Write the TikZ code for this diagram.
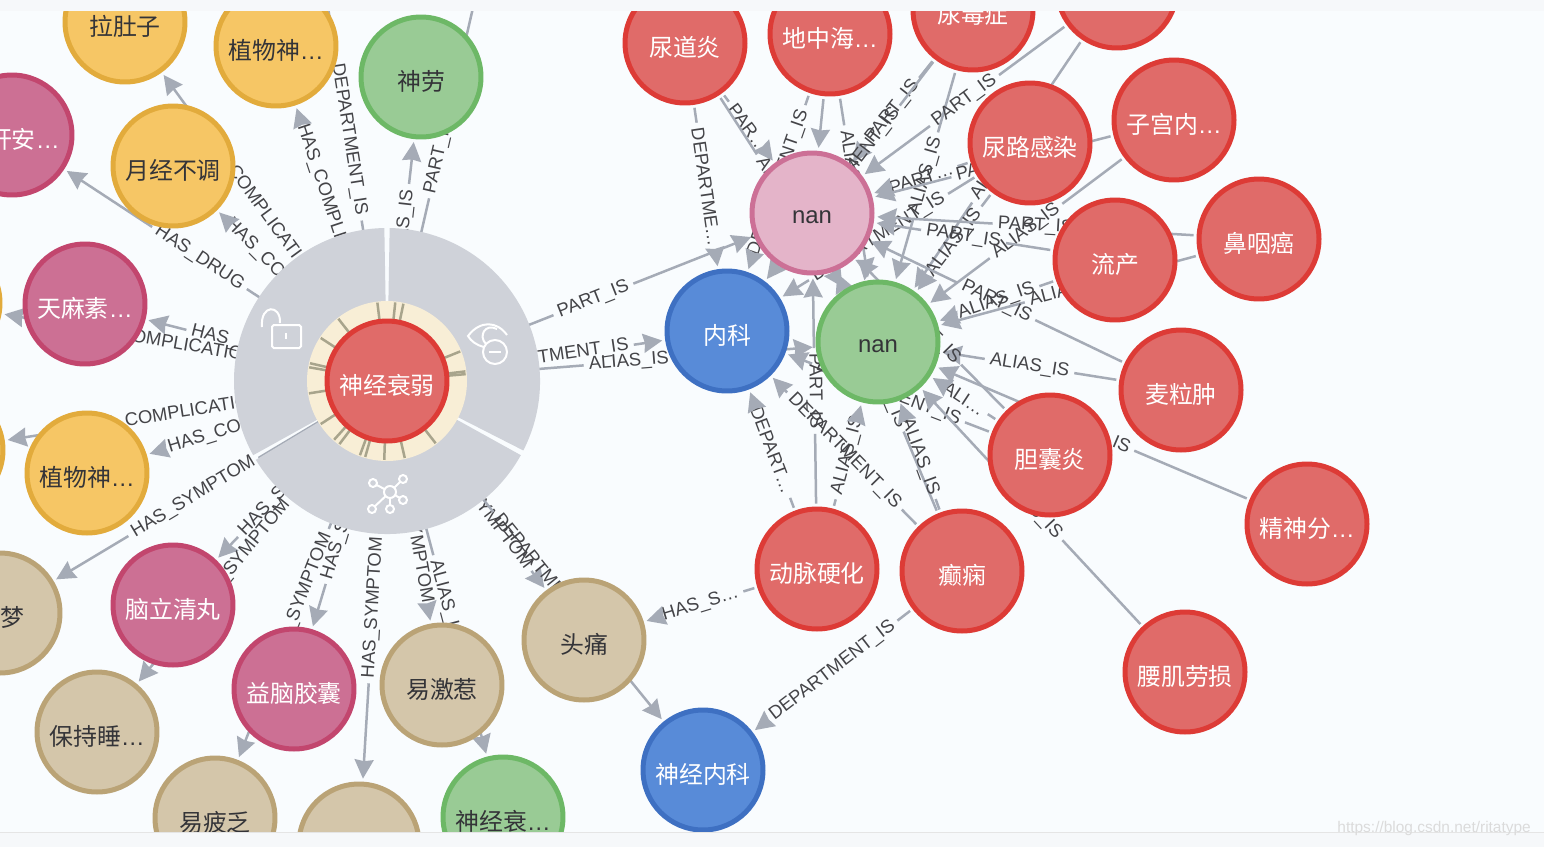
\documentclass[tikz,border=0pt]{standalone}
\usepackage{fontspec}
\setmainfont{Liberation Sans}
\newfontfamily\cjk{Noto Sans CJK SC}
\usepackage{tikz}
\usetikzlibrary{arrows.meta,backgrounds}
\definecolor{pagebg}{RGB}{249,252,254}
\definecolor{bandbg}{RGB}{246,248,250}
\definecolor{linkgrey}{RGB}{165,171,182}
\definecolor{inktext}{RGB}{52,52,56}
\definecolor{ringgrey}{RGB}{207,210,217}
\definecolor{ringcream}{RGB}{248,238,214}
\definecolor{stubolive}{RGB}{168,164,140}
\newcommand{\more}{{\rmfamily\char"2026}}
\newcommand{\relink}[4][.5]{%
  \path (#2) -- node[rel,pos=#1] (lbl) {#4} (#3);
  \draw[link] (#2) -- (lbl);
  \draw[arrow] (lbl) -- (#3);
}

\begin{document}
\begin{tikzpicture}[
    x=0.02cm, y=-0.02cm,
    >={Stealth[length=0.38cm,width=0.38cm,inset=0.03cm]},
    link/.style={line width=0.05cm, draw=linkgrey},
    arrow/.style={link, ->},
    rel/.style={sloped, font=\fontsize{10.5pt}{10.5pt}\selectfont, text=inktext!92,
                inner xsep=0.1cm, inner ysep=0pt},
    gnode/.style={circle, draw, line width=0.1cm, minimum size=2.4cm, inner sep=0pt,
                  outer sep=0.11cm, font=\cjk\fontsize{13.6pt}{13.6pt}\selectfont, text=inktext,
                  text height=0.52cm, text depth=0pt},
    nanfont/.style={font=\fontsize{13.6pt}{13.6pt}\selectfont, text height=0.4cm},
    redn/.style={fill={rgb,255:red,224;green,107;blue,105}, draw={rgb,255:red,221;green,59;blue,54}, text=white},
    pinkn/.style={fill={rgb,255:red,228;green,180;blue,201}, draw={rgb,255:red,204;green,112;blue,150}},
    greenn/.style={fill={rgb,255:red,153;green,203;blue,149}, draw={rgb,255:red,109;green,184;blue,102}},
    bluen/.style={fill={rgb,255:red,88;green,139;blue,216}, draw={rgb,255:red,62;green,112;blue,194}, text=white},
    tann/.style={fill={rgb,255:red,212;green,198;blue,170}, draw={rgb,255:red,186;green,163;blue,118}},
    yelln/.style={fill={rgb,255:red,246;green,198;blue,101}, draw={rgb,255:red,226;green,171;blue,60}},
    rosen/.style={fill={rgb,255:red,204;green,112;blue,148}, draw={rgb,255:red,194;green,70;blue,110}, text=white},
    icon/.style={draw=white, line width=0.04cm},
]
\useasboundingbox (0,0) rectangle (1544,846);
\begin{pgfonlayer}{background}
  \fill[pagebg] (0,0) rectangle (1544,846);
\end{pgfonlayer}

%% ── menu ring ──────────────────────────────────────
\begin{scope}[shift={(387,381)}, x=0.02cm, y=0.02cm]
  \foreach \a/\b in {91/209, 211/331, 333/449}
    \fill[ringgrey] (0,0) -- (\a:153) arc[start angle=\a, end angle=\b, radius=153] -- cycle;
  \fill[ringcream] (0,0) circle (80);
  \foreach \a in {97,84,78,128,147,167,170,189,213,228,233,250,254,268,283,308,22,5,7}
    \draw[stubolive, line width=0.05cm] (\a:60) -- (\a:79);
\end{scope}

% lock
\draw[icon, rounded corners=1pt] (272,325) rectangle (301,348);
\draw[icon] (262,327) .. controls (260,304) and (281,304) .. (280,323);
\draw[icon] (286,333) -- (286,339);
% eye
\draw[icon] (484,347) .. controls (476,345) and (471,341) .. (468,336) .. controls (480,320) and (497,321) .. (507,335);
\draw[icon] (497,329) .. controls (485,323) and (478,336) .. (486,344);
\draw[icon] (495,352) circle (12);
\draw[icon] (489,352) -- (501,352);
% network
\begin{scope}[shift={(390,492)}]
  \foreach \p in {(-17,-9),(13,-13),(13,8),(0,17),(-18,17)} {
    \draw[icon] (0,0) -- \p;
    \fill[ringgrey] \p circle (4);
    \draw[icon] \p circle (4);
  }
  \fill[ringgrey] (0,0) circle (6);
  \draw[icon] (0,0) circle (6);
\end{scope}

%% ── left group ─────────────────────────────────────
\node[gnode,redn]    (shuai)  at (387,381)  {神经衰弱};
\node[gnode,rosen]   (gan)    at (12,135)   {\phantom{肝}肝安\more};
\node[gnode,yelln]   (ladu)   at (125,22)   {拉肚子};
\node[gnode,yelln]   (zhiA)   at (276,46)   {植物神\more};
\node[gnode,greenn]  (lao)    at (421,77)   {神劳};
\node[gnode,yelln]   (yue)    at (173,166)  {月经不调};
\node[gnode,rosen]   (tian)   at (85,304)   {天麻素\more};
\node[gnode,yelln]   (zhiB)   at (87,473)   {植物神\more};
\node[gnode,yelln]   (edgeA)  at (-60,303)  {};
\node[gnode,yelln]   (edgeB)  at (-57,450)  {};
\node[gnode,tann]    (meng)   at (0,613)    {\phantom{梦}梦};
\node[gnode,rosen]   (nao)    at (173,605)  {脑立清丸};
\node[gnode,rosen]   (yinao)  at (294,689)  {益脑胶囊};
\node[gnode,tann]    (bao)    at (97,732)   {保持睡\more};
\node[gnode,tann]    (pi)     at (215,818)  {易疲乏};
\node[gnode,tann]    (lower)  at (359,844)  {};
\node[gnode,tann]    (ji)     at (442,685)  {易激惹};
\node[gnode,greenn]  (shuaiB) at (503,817)  {神经衰\more};
\node[gnode,tann]    (tou)    at (584,640)  {头痛};
\node[gnode,bluen]   (shennei) at (703,770) {神经内科};

%% ── right group ────────────────────────────────────
\node[gnode,bluen]   (nei)    at (727,331)  {内科};
\node[gnode,pinkn,nanfont]  (nanP) at (812,213) {nan};
\node[gnode,greenn,nanfont] (nanG) at (878,342) {nan};
\node[gnode,redn]    (dao)    at (685,43)   {尿道炎};
\node[gnode,redn]    (dizh)   at (830,34)   {地中海\more};
\node[gnode,redn]    (du)     at (973,10)   {尿毒症};
\node[gnode,redn]    (topr)   at (1117,-12) {};
\node[gnode,redn]    (lu)     at (1030,143) {尿路感染};
\node[gnode,redn]    (zi)     at (1174,120) {子宫内\more};
\node[gnode,redn]    (bi)     at (1259,239) {鼻咽癌};
\node[gnode,redn]    (liu)    at (1115,260) {流产};
\node[gnode,redn]    (mai)    at (1181,390) {麦粒肿};
\node[gnode,redn]    (dan)    at (1050,455) {胆囊炎};
\node[gnode,redn]    (jing)   at (1307,524) {精神分\more};
\node[gnode,redn]    (yao)    at (1185,672) {腰肌劳损};
\node[gnode,redn]    (dong)   at (817,569)  {动脉硬化};
\node[gnode,redn]    (dian)   at (962,571)  {癫痫};

\coordinate (upA) at (484,-40);
\coordinate (upB) at (321,-37);

%% ── links, under the nodes ─────────────────────────
\begin{pgfonlayer}{background}
\relink{shuai}{gan}{HAS\_DRUG}
\relink[.385]{shuai}{yue}{HAS\_COMPLICATION}
\relink[.49]{shuai}{ladu}{HAS\_COMPLICATION}
\relink[.47]{shuai}{tian}{HAS\_DRUG}
\relink{shuai}{edgeA}{HAS\_COMPLICATION}
\relink[.38]{shuai}{zhiB}{HAS\_COMPLICATION}
\relink[.484]{shuai}{edgeB}{HAS\_COMPLICATION}
\relink{shuai}{meng}{HAS\_SYMPTOM}
\relink[.415]{shuai}{nao}{HAS\_SYMPTOM}
\relink{shuai}{bao}{HAS\_SYMPTOM}
\relink[.37]{shuai}{yinao}{HAS\_SYMPTOM}
\relink{shuai}{pi}{HAS\_SYMPTOM}
\relink[.485]{shuai}{lower}{HAS\_SYMPTOM}
\relink{shuai}{ji}{HAS\_SYMPTOM}
\relink{shuai}{shuaiB}{ALIAS\_IS}
\relink{shuai}{tou}{HAS\_SYMPTOM}
\relink{shuai}{shennei}{DEPARTMENT\_IS}
\relink{shuai}{lao}{ALIAS\_IS}
\relink{shuai}{zhiA}{HAS\_COMPLICATION}
\relink[.48]{shuai}{nanP}{PART\_IS}
\relink[.48]{shuai}{nei}{DEPARTMENT\_IS}
\relink[.49]{shuai}{nanG}{ALIAS\_IS}
\path (shuai) -- node[rel,pos=.45] (lbl) {PART\_IS} (upA);
\draw[link] (shuai) -- (lbl);
\draw[link] (lbl) -- (upA);
\path (shuai) -- node[rel] (lbl) {DEPARTMENT\_IS} (upB);
\draw[link] (shuai) -- (lbl);
\draw[link] (lbl) -- (upB);

\relink{dao}{nei}{DEPARTME\more}
\relink{dao}{nanP}{PAR\more}
\relink{dao}{nanG}{ALIAS\_IS}
\draw[arrow] (dizh) -- (nanP);
\relink{dizh}{nei}{DEPARTMENT\_IS}
\relink[.4]{dizh}{nanG}{ALIAS\_IS}
\relink{du}{nanP}{PART\_IS}
\relink{du}{nei}{DEPARTMENT\_IS}
\relink{du}{nanG}{ALIAS\_IS}
\relink{topr}{nanP}{PART\_IS}
\relink{topr}{nanG}{ALIAS\_IS}
\relink{lu}{nanP}{PART\more}
\relink{lu}{nei}{DEPARTMENT\_IS}
\relink{lu}{nanG}{ALIAS\_IS}
\relink{zi}{nanP}{PART\_IS}
\relink{zi}{nanG}{ALIAS\_IS}
\relink{bi}{nanP}{PART\_IS}
\relink{bi}{nanG}{ALIAS\_IS}
\relink{liu}{nanP}{PART\_IS}
\relink{liu}{nanG}{ALIAS\_IS}
\relink{mai}{nanP}{PART\_IS}
\relink{mai}{nanG}{ALIAS\_IS}
\relink{dan}{nanG}{ALI\more}
\relink{dan}{nanP}{PART\_IS}
\relink{dan}{nei}{DEPARTMENT\_IS}
\relink{jing}{nanG}{ALIAS\_IS}
\relink{yao}{nanG}{ALIAS\_IS}
\relink{dong}{nei}{DEPART\more}
\relink{dong}{nanP}{PART\_IS}
\relink{dong}{nanG}{ALIAS\_IS}
\relink{dong}{tou}{HAS\_S\more}
\relink{dian}{nei}{DEPARTMENT\_IS}
\relink{dian}{nanP}{PART\_IS}
\relink{dian}{nanG}{ALIAS\_IS}
\relink{dian}{shennei}{DEPARTMENT\_IS}
\end{pgfonlayer}

%% ── frame bands and mark ───────────────────────────
\fill[bandbg] (0,-5) rectangle (1544,11);
\fill[bandbg] (0,832) rectangle (1544,852);
\draw[black!10, line width=0.03cm] (0,832.5) -- (1544,832.5);
\node[anchor=east, font=\fontsize{8.8pt}{8.8pt}\selectfont, text=black!14] (mark) at (1537,828) {https://blog.csdn.net/ritatype};
\end{tikzpicture}
\end{document}
